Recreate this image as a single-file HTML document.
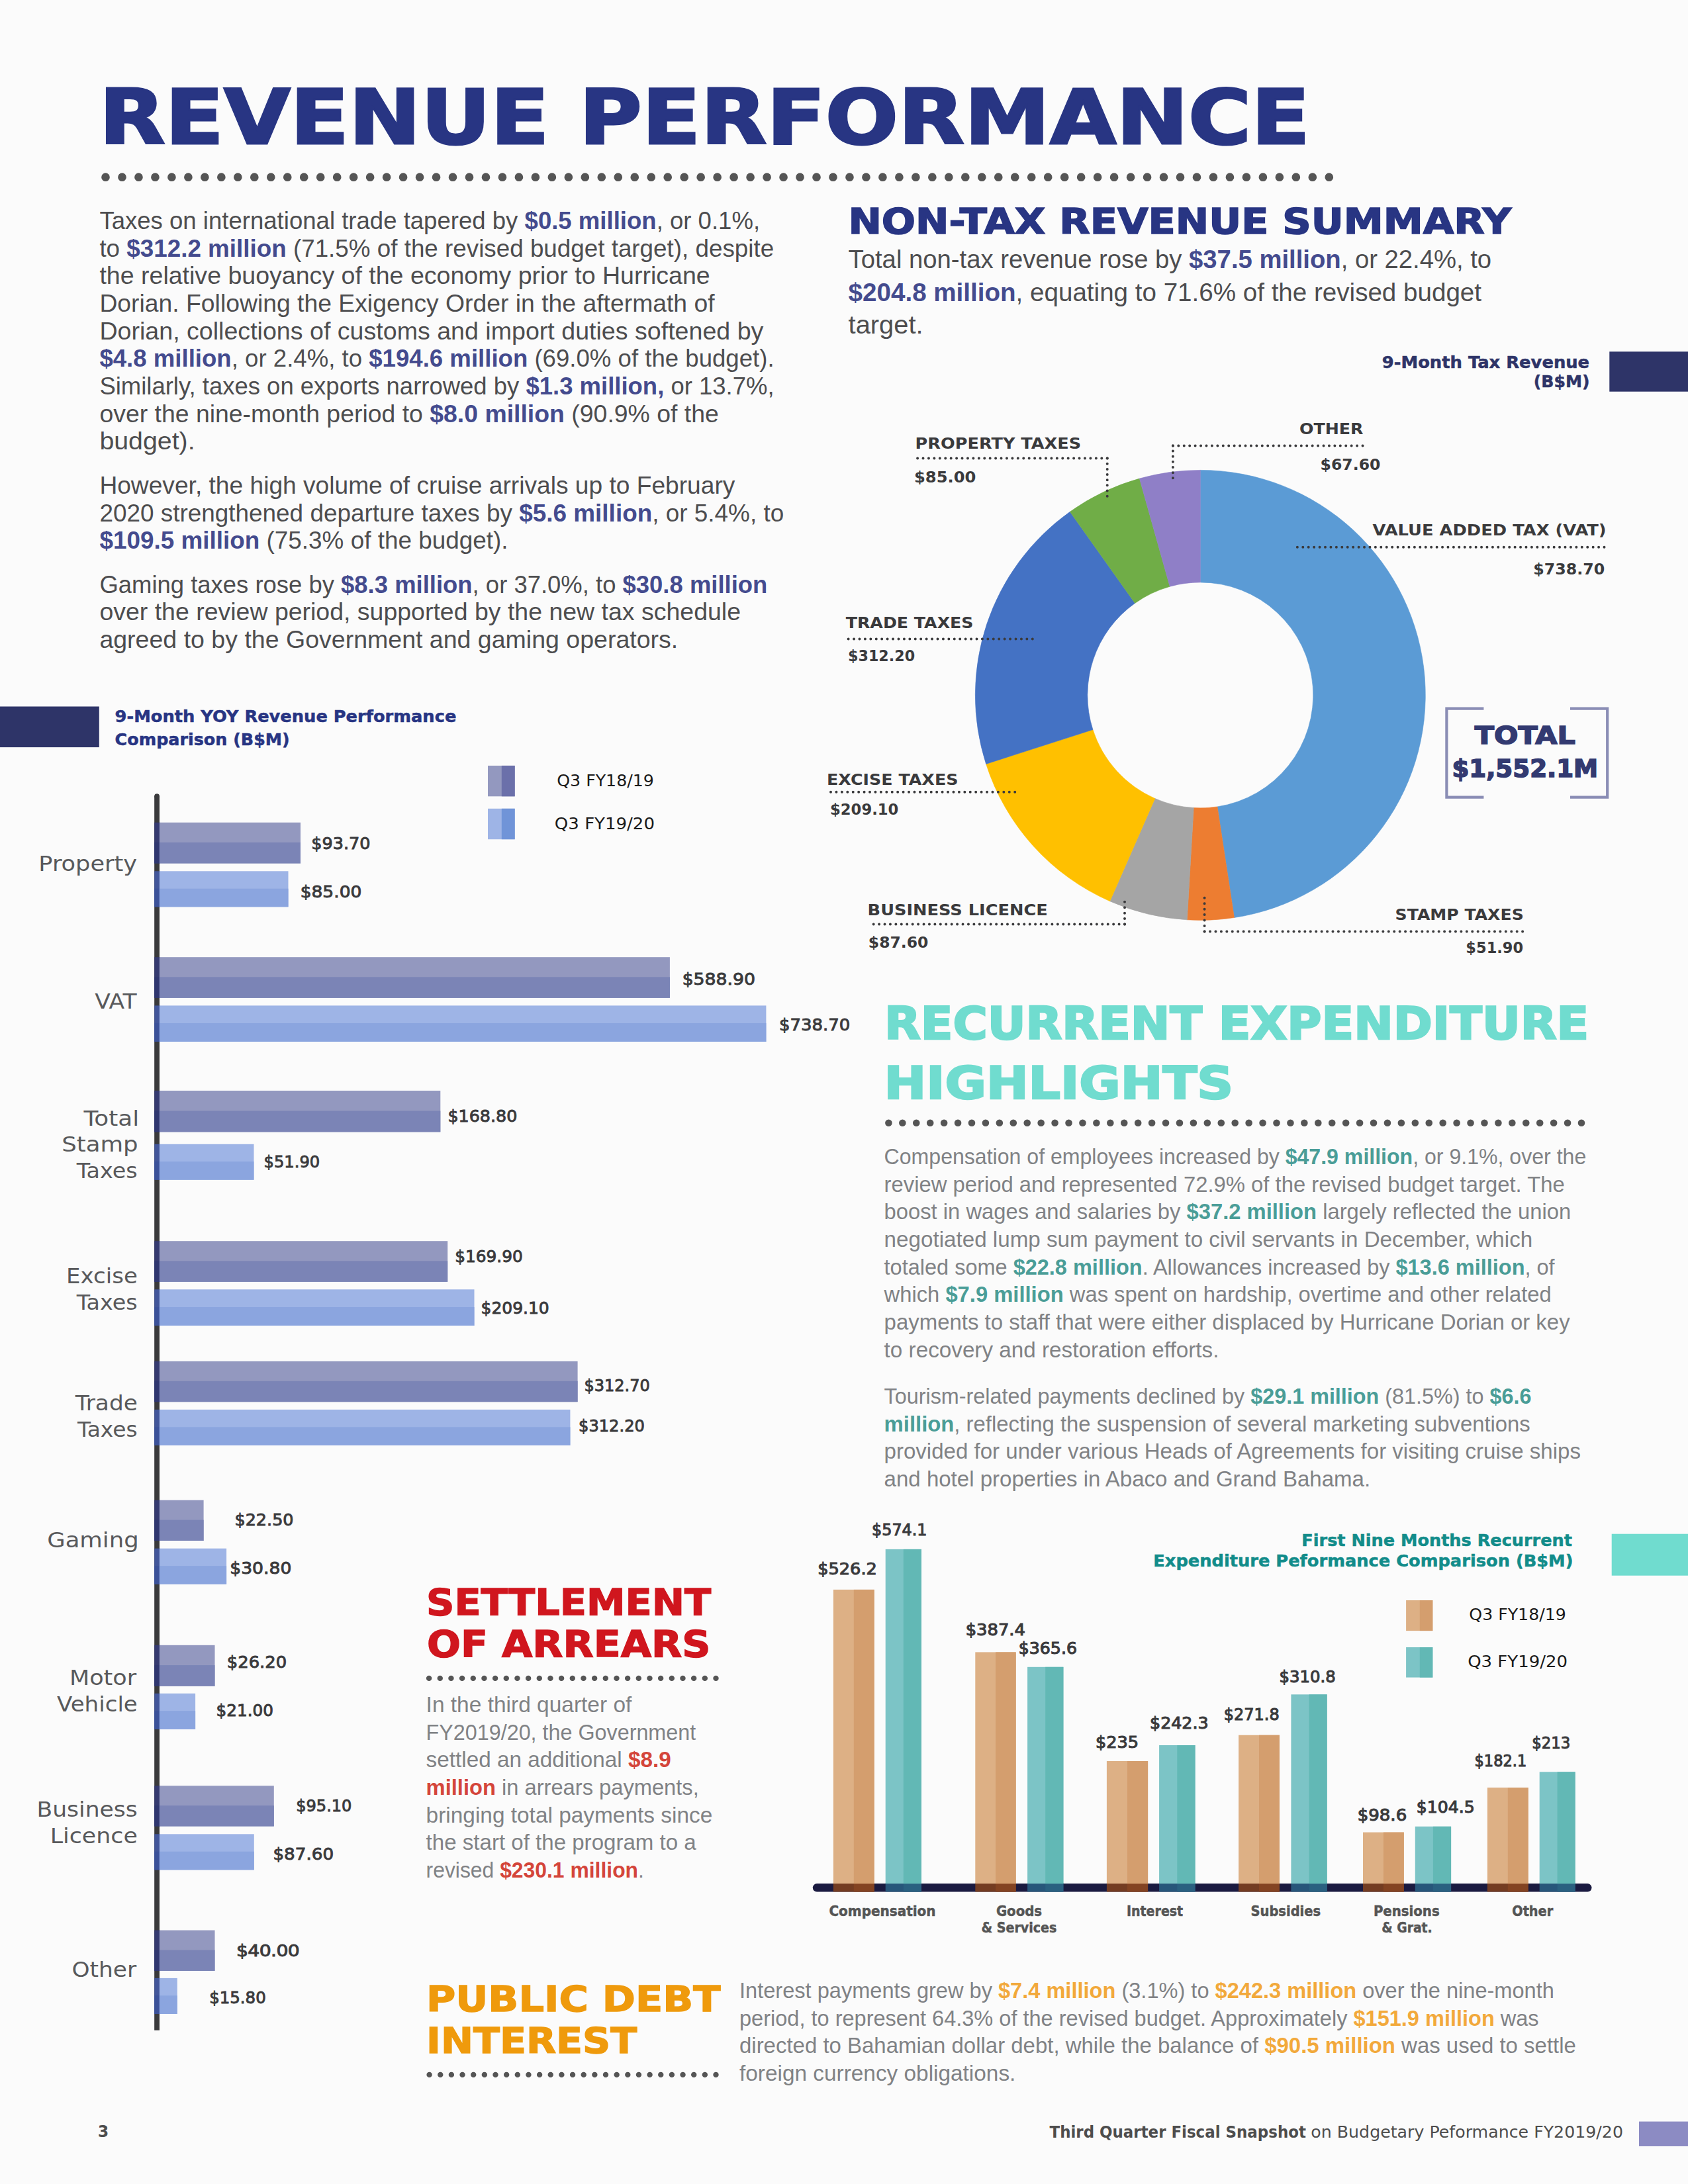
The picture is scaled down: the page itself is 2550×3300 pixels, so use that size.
<!DOCTYPE html>
<html lang="en"><head><meta charset="utf-8"><title>Revenue Performance</title>
<style>html,body{margin:0;padding:0;background:#fbfbfb}svg{display:block}text{white-space:pre}</style>
</head><body>
<svg width="2550" height="3300" viewBox="0 0 2550 3300">
<rect width="2550" height="3300" fill="#fbfbfb"/>
<text x="149.68" y="216.70" font-size="114.60" font-family="'DejaVu Sans','Liberation Sans',sans-serif" font-weight="bold" fill="#283583" stroke="#283583" stroke-width="3.00" stroke-linejoin="miter" textLength="1829.09" lengthAdjust="spacingAndGlyphs">REVENUE PERFORMANCE</text>
<line x1="159.5" y1="267.7" x2="2008.4" y2="267.7" stroke="#555" stroke-width="12.7" stroke-linecap="round" stroke-dasharray="0 24.977"/>
<text x="150.40" y="345.80" font-size="36.80" font-family="'Liberation Sans',sans-serif" font-weight="normal" fill="#4d4d4f" textLength="997.70" lengthAdjust="spacingAndGlyphs">Taxes on international trade tapered by <tspan font-weight="bold" fill="#444b8e">$0.5 million</tspan>, or 0.1%,</text>
<text x="150.40" y="387.50" font-size="36.80" font-family="'Liberation Sans',sans-serif" font-weight="normal" fill="#4d4d4f" textLength="1018.76" lengthAdjust="spacingAndGlyphs">to <tspan font-weight="bold" fill="#444b8e">$312.2 million</tspan> (71.5% of the revised budget target), despite</text>
<text x="150.40" y="429.20" font-size="36.80" font-family="'Liberation Sans',sans-serif" font-weight="normal" fill="#4d4d4f" textLength="922.29" lengthAdjust="spacingAndGlyphs">the relative buoyancy of the economy prior to Hurricane</text>
<text x="150.40" y="470.90" font-size="36.80" font-family="'Liberation Sans',sans-serif" font-weight="normal" fill="#4d4d4f" textLength="929.21" lengthAdjust="spacingAndGlyphs">Dorian. Following the Exigency Order in the aftermath of</text>
<text x="150.40" y="512.60" font-size="36.80" font-family="'Liberation Sans',sans-serif" font-weight="normal" fill="#4d4d4f" textLength="1002.99" lengthAdjust="spacingAndGlyphs">Dorian, collections of customs and import duties softened by</text>
<text x="150.40" y="554.30" font-size="36.80" font-family="'Liberation Sans',sans-serif" font-weight="normal" fill="#4d4d4f" textLength="1019.21" lengthAdjust="spacingAndGlyphs"><tspan font-weight="bold" fill="#444b8e">$4.8 million</tspan>, or 2.4%, to <tspan font-weight="bold" fill="#444b8e">$194.6 million</tspan> (69.0% of the budget).</text>
<text x="150.40" y="596.00" font-size="36.80" font-family="'Liberation Sans',sans-serif" font-weight="normal" fill="#4d4d4f" textLength="1019.20" lengthAdjust="spacingAndGlyphs">Similarly, taxes on exports narrowed by <tspan font-weight="bold" fill="#444b8e">$1.3 million,</tspan> or 13.7%,</text>
<text x="150.40" y="637.70" font-size="36.80" font-family="'Liberation Sans',sans-serif" font-weight="normal" fill="#4d4d4f" textLength="935.39" lengthAdjust="spacingAndGlyphs">over the nine-month period to <tspan font-weight="bold" fill="#444b8e">$8.0 million</tspan> (90.9% of the</text>
<text x="150.40" y="679.40" font-size="36.80" font-family="'Liberation Sans',sans-serif" font-weight="normal" fill="#4d4d4f" textLength="144.24" lengthAdjust="spacingAndGlyphs">budget).</text>
<text x="150.40" y="745.80" font-size="36.80" font-family="'Liberation Sans',sans-serif" font-weight="normal" fill="#4d4d4f" textLength="959.99" lengthAdjust="spacingAndGlyphs">However, the high volume of cruise arrivals up to February</text>
<text x="150.40" y="787.50" font-size="36.80" font-family="'Liberation Sans',sans-serif" font-weight="normal" fill="#4d4d4f" textLength="1033.77" lengthAdjust="spacingAndGlyphs">2020 strengthened departure taxes by <tspan font-weight="bold" fill="#444b8e">$5.6 million</tspan>, or 5.4%, to</text>
<text x="150.40" y="829.20" font-size="36.80" font-family="'Liberation Sans',sans-serif" font-weight="normal" fill="#4d4d4f" textLength="617.13" lengthAdjust="spacingAndGlyphs"><tspan font-weight="bold" fill="#444b8e">$109.5 million</tspan> (75.3% of the budget).</text>
<text x="150.40" y="895.70" font-size="36.80" font-family="'Liberation Sans',sans-serif" font-weight="normal" fill="#4d4d4f" textLength="1008.96" lengthAdjust="spacingAndGlyphs">Gaming taxes rose by <tspan font-weight="bold" fill="#444b8e">$8.3 million</tspan>, or 37.0%, to <tspan font-weight="bold" fill="#444b8e">$30.8 million</tspan></text>
<text x="150.40" y="937.40" font-size="36.80" font-family="'Liberation Sans',sans-serif" font-weight="normal" fill="#4d4d4f" textLength="968.59" lengthAdjust="spacingAndGlyphs">over the review period, supported by the new tax schedule</text>
<text x="150.40" y="979.10" font-size="36.80" font-family="'Liberation Sans',sans-serif" font-weight="normal" fill="#4d4d4f" textLength="873.89" lengthAdjust="spacingAndGlyphs">agreed to by the Government and gaming operators.</text>
<text x="1281.40" y="353.20" font-size="53.60" font-family="'DejaVu Sans','Liberation Sans',sans-serif" font-weight="bold" fill="#283583" stroke="#283583" stroke-width="1.60" stroke-linejoin="miter" textLength="1001.76" lengthAdjust="spacingAndGlyphs">NON-TAX REVENUE SUMMARY</text>
<text x="1281.60" y="404.80" font-size="38.00" font-family="'Liberation Sans',sans-serif" font-weight="normal" fill="#4d4d4f" textLength="971.54" lengthAdjust="spacingAndGlyphs">Total non-tax revenue rose by <tspan font-weight="bold" fill="#444b8e">$37.5 million</tspan>, or 22.4%, to</text>
<text x="1281.60" y="454.60" font-size="38.00" font-family="'Liberation Sans',sans-serif" font-weight="normal" fill="#4d4d4f" textLength="956.45" lengthAdjust="spacingAndGlyphs"><tspan font-weight="bold" fill="#444b8e">$204.8 million</tspan>, equating to 71.6% of the revised budget</text>
<text x="1281.60" y="504.40" font-size="38.00" font-family="'Liberation Sans',sans-serif" font-weight="normal" fill="#4d4d4f" textLength="112.98" lengthAdjust="spacingAndGlyphs">target.</text>
<text x="2087.82" y="555.80" font-size="25.00" font-family="'DejaVu Sans','Liberation Sans',sans-serif" font-weight="bold" fill="#2e3468" stroke="#2e3468" stroke-width="0.50" stroke-linejoin="miter" textLength="313.32" lengthAdjust="spacingAndGlyphs">9-Month Tax Revenue</text>
<text x="2316.84" y="585.30" font-size="25.00" font-family="'DejaVu Sans','Liberation Sans',sans-serif" font-weight="bold" fill="#2e3468" stroke="#2e3468" stroke-width="0.50" stroke-linejoin="miter" textLength="84.75" lengthAdjust="spacingAndGlyphs">(B$M)</text>
<rect x="2431.3" y="531.3" width="118.7" height="60.4" fill="#2e3468"/>
<path d="M1813.30 710.40A340.0 340.0 0 0 1 1864.51 1386.52L1838.98 1218.95A170.5 170.5 0 0 0 1813.30 879.90Z" fill="#5b9bd5" stroke="#5b9bd5" stroke-width="0.6"/>
<path d="M1864.51 1386.52A340.0 340.0 0 0 1 1793.29 1389.81L1803.26 1220.60A170.5 170.5 0 0 0 1838.98 1218.95Z" fill="#ed7d31" stroke="#ed7d31" stroke-width="0.6"/>
<path d="M1793.29 1389.81A340.0 340.0 0 0 1 1676.68 1361.74L1744.79 1206.53A170.5 170.5 0 0 0 1803.26 1220.60Z" fill="#a5a5a5" stroke="#a5a5a5" stroke-width="0.6"/>
<path d="M1676.68 1361.74A340.0 340.0 0 0 1 1489.59 1154.38L1650.97 1102.54A170.5 170.5 0 0 0 1744.79 1206.53Z" fill="#ffc000" stroke="#ffc000" stroke-width="0.6"/>
<path d="M1489.59 1154.38A340.0 340.0 0 0 1 1616.37 773.24L1714.55 911.41A170.5 170.5 0 0 0 1650.97 1102.54Z" fill="#4472c4" stroke="#4472c4" stroke-width="0.6"/>
<path d="M1616.37 773.24A340.0 340.0 0 0 1 1721.41 723.05L1767.22 886.24A170.5 170.5 0 0 0 1714.55 911.41Z" fill="#70ad47" stroke="#70ad47" stroke-width="0.6"/>
<path d="M1721.41 723.05A340.0 340.0 0 0 1 1813.30 710.40L1813.30 879.90A170.5 170.5 0 0 0 1767.22 886.24Z" fill="#8f7fc7" stroke="#8f7fc7" stroke-width="0.6"/>
<text x="1382.63" y="677.80" font-size="23.60" font-family="'DejaVu Sans','Liberation Sans',sans-serif" font-weight="bold" fill="#3a3a3c" textLength="250.44" lengthAdjust="spacingAndGlyphs">PROPERTY TAXES</text>
<line x1="1672.7" y1="692.6" x2="1384.3" y2="692.6" stroke="#3a3a3c" stroke-width="4.0" stroke-linecap="round" stroke-dasharray="0 8.43"/>
<line x1="1672.7" y1="692.6" x2="1672.7" y2="750.5" stroke="#3a3a3c" stroke-width="4.0" stroke-linecap="round" stroke-dasharray="0 8.15"/>
<text x="1380.97" y="729.00" font-size="23.60" font-family="'DejaVu Sans','Liberation Sans',sans-serif" font-weight="bold" fill="#3a3a3c" textLength="93.45" lengthAdjust="spacingAndGlyphs">$85.00</text>
<text x="1962.93" y="656.00" font-size="23.60" font-family="'DejaVu Sans','Liberation Sans',sans-serif" font-weight="bold" fill="#3a3a3c" textLength="96.65" lengthAdjust="spacingAndGlyphs">OTHER</text>
<line x1="1771.9" y1="673.4" x2="2059.3" y2="673.4" stroke="#3a3a3c" stroke-width="4.0" stroke-linecap="round" stroke-dasharray="0 8.43"/>
<line x1="1771.9" y1="673.4" x2="1771.9" y2="723.9" stroke="#3a3a3c" stroke-width="4.0" stroke-linecap="round" stroke-dasharray="0 8.15"/>
<text x="1994.50" y="710.30" font-size="23.60" font-family="'DejaVu Sans','Liberation Sans',sans-serif" font-weight="bold" fill="#3a3a3c" textLength="90.91" lengthAdjust="spacingAndGlyphs">$67.60</text>
<text x="2073.50" y="808.60" font-size="23.60" font-family="'DejaVu Sans','Liberation Sans',sans-serif" font-weight="bold" fill="#3a3a3c" textLength="353.15" lengthAdjust="spacingAndGlyphs">VALUE ADDED TAX (VAT)</text>
<line x1="2423.5" y1="826.8" x2="1952.5" y2="826.8" stroke="#3a3a3c" stroke-width="4.0" stroke-linecap="round" stroke-dasharray="0 8.43"/>
<text x="2316.29" y="867.50" font-size="23.60" font-family="'DejaVu Sans','Liberation Sans',sans-serif" font-weight="bold" fill="#3a3a3c" textLength="108.02" lengthAdjust="spacingAndGlyphs">$738.70</text>
<text x="1277.70" y="948.50" font-size="23.60" font-family="'DejaVu Sans','Liberation Sans',sans-serif" font-weight="bold" fill="#3a3a3c" textLength="192.86" lengthAdjust="spacingAndGlyphs">TRADE TAXES</text>
<line x1="1281.6" y1="965.4" x2="1564.0" y2="965.4" stroke="#3a3a3c" stroke-width="4.0" stroke-linecap="round" stroke-dasharray="0 8.43"/>
<text x="1281.06" y="999.30" font-size="23.60" font-family="'DejaVu Sans','Liberation Sans',sans-serif" font-weight="bold" fill="#3a3a3c" textLength="101.03" lengthAdjust="spacingAndGlyphs">$312.20</text>
<text x="1249.05" y="1186.30" font-size="23.60" font-family="'DejaVu Sans','Liberation Sans',sans-serif" font-weight="bold" fill="#3a3a3c" textLength="198.41" lengthAdjust="spacingAndGlyphs">EXCISE TAXES</text>
<line x1="1255.0" y1="1196.7" x2="1536.5" y2="1196.7" stroke="#3a3a3c" stroke-width="4.0" stroke-linecap="round" stroke-dasharray="0 8.43"/>
<text x="1254.04" y="1231.30" font-size="23.60" font-family="'DejaVu Sans','Liberation Sans',sans-serif" font-weight="bold" fill="#3a3a3c" textLength="103.36" lengthAdjust="spacingAndGlyphs">$209.10</text>
<text x="1310.63" y="1383.00" font-size="23.60" font-family="'DejaVu Sans','Liberation Sans',sans-serif" font-weight="bold" fill="#3a3a3c" textLength="272.19" lengthAdjust="spacingAndGlyphs">BUSINESS LICENCE</text>
<line x1="1699.0" y1="1396.5" x2="1311.5" y2="1396.5" stroke="#3a3a3c" stroke-width="4.0" stroke-linecap="round" stroke-dasharray="0 8.43"/>
<line x1="1699.0" y1="1396.5" x2="1699.0" y2="1361.5" stroke="#3a3a3c" stroke-width="4.0" stroke-linecap="round" stroke-dasharray="0 8.43"/>
<text x="1311.80" y="1431.60" font-size="23.60" font-family="'DejaVu Sans','Liberation Sans',sans-serif" font-weight="bold" fill="#3a3a3c" textLength="90.61" lengthAdjust="spacingAndGlyphs">$87.60</text>
<text x="2107.64" y="1389.60" font-size="23.60" font-family="'DejaVu Sans','Liberation Sans',sans-serif" font-weight="bold" fill="#3a3a3c" textLength="194.12" lengthAdjust="spacingAndGlyphs">STAMP TAXES</text>
<line x1="1819.6" y1="1407.4" x2="2301.5" y2="1407.4" stroke="#3a3a3c" stroke-width="4.0" stroke-linecap="round" stroke-dasharray="0 8.43"/>
<line x1="1819.6" y1="1407.4" x2="1819.6" y2="1355.5" stroke="#3a3a3c" stroke-width="4.0" stroke-linecap="round" stroke-dasharray="0 8.43"/>
<text x="2214.35" y="1440.20" font-size="23.60" font-family="'DejaVu Sans','Liberation Sans',sans-serif" font-weight="bold" fill="#3a3a3c" textLength="86.75" lengthAdjust="spacingAndGlyphs">$51.90</text>
<path d="M2241.4 1070.7H2185.4V1204.6H2241.4M2372 1070.7H2428.2V1204.6H2372" fill="none" stroke="#8a8db5" stroke-width="4.2"/>
<text x="2227.70" y="1124.40" font-size="38.00" font-family="'DejaVu Sans','Liberation Sans',sans-serif" font-weight="bold" fill="#333a71" stroke="#333a71" stroke-width="1.60" stroke-linejoin="miter" textLength="152.24" lengthAdjust="spacingAndGlyphs">TOTAL</text>
<text x="2193.38" y="1173.80" font-size="36.80" font-family="'DejaVu Sans','Liberation Sans',sans-serif" font-weight="bold" fill="#333a71" stroke="#333a71" stroke-width="1.60" stroke-linejoin="miter" textLength="220.77" lengthAdjust="spacingAndGlyphs">$1,552.1M</text>
<rect x="0.0" y="1067.5" width="149.8" height="61.6" fill="#2e3468"/>
<text x="173.62" y="1090.70" font-size="25.00" font-family="'DejaVu Sans','Liberation Sans',sans-serif" font-weight="bold" fill="#283583" stroke="#283583" stroke-width="0.50" stroke-linejoin="miter" textLength="515.71" lengthAdjust="spacingAndGlyphs">9-Month YOY Revenue Performance</text>
<text x="173.63" y="1125.80" font-size="25.00" font-family="'DejaVu Sans','Liberation Sans',sans-serif" font-weight="bold" fill="#283583" stroke="#283583" stroke-width="0.50" stroke-linejoin="miter" textLength="264.06" lengthAdjust="spacingAndGlyphs">Comparison (B$M)</text>
<rect x="737.0" y="1156.9" width="40.7" height="46.4" fill="#9398bf"/>
<rect x="757.8" y="1156.9" width="19.9" height="46.4" fill="#6b70aa"/>
<rect x="737.0" y="1221.8" width="40.7" height="46.4" fill="#9eb4e6"/>
<rect x="757.8" y="1221.8" width="19.9" height="46.4" fill="#7094d8"/>
<text x="841.21" y="1188.20" font-size="25.50" font-family="'DejaVu Sans','Liberation Sans',sans-serif" font-weight="normal" fill="#1a1a1a" textLength="146.70" lengthAdjust="spacingAndGlyphs">Q3 FY18/19</text>
<text x="837.88" y="1253.10" font-size="25.50" font-family="'DejaVu Sans','Liberation Sans',sans-serif" font-weight="normal" fill="#1a1a1a" textLength="151.07" lengthAdjust="spacingAndGlyphs">Q3 FY19/20</text>
<line x1="237.05" y1="1203.1" x2="237.05" y2="3067.8" stroke="#3a3a3c" stroke-width="7.8" stroke-linecap="butt"/>
<circle cx="237.05" cy="1203.1" r="3.9" fill="#3a3a3c"/>
<rect x="233.2" y="1242.8" width="8.3" height="61.7" fill="#353a70"/>
<rect x="233.2" y="1272.9" width="8.3" height="31.6" fill="#2f366f"/>
<rect x="240.9" y="1242.8" width="213.1" height="61.7" fill="#9398bf"/>
<rect x="240.9" y="1272.9" width="213.1" height="31.6" fill="#7b84b6"/>
<rect x="233.2" y="1316.3" width="8.3" height="54.0" fill="#42569a"/>
<rect x="233.2" y="1342.7" width="8.3" height="27.6" fill="#3b5199"/>
<rect x="240.9" y="1316.3" width="194.6" height="54.0" fill="#9eb4e6"/>
<rect x="240.9" y="1342.7" width="194.6" height="27.6" fill="#8ba5df"/>
<text x="470.32" y="1283.10" font-size="28.30" font-family="'DejaVu Sans','Liberation Sans',sans-serif" font-weight="normal" fill="#3a3a3c" stroke="#3a3a3c" stroke-width="1.05" stroke-linejoin="miter" textLength="89.26" lengthAdjust="spacingAndGlyphs" transform="matrix(1 0 0 0.9050 0 121.894)">$93.70</text>
<text x="453.65" y="1356.10" font-size="28.30" font-family="'DejaVu Sans','Liberation Sans',sans-serif" font-weight="normal" fill="#3a3a3c" stroke="#3a3a3c" stroke-width="1.05" stroke-linejoin="miter" textLength="92.76" lengthAdjust="spacingAndGlyphs" transform="matrix(1 0 0 0.9050 0 128.829)">$85.00</text>
<text x="58.36" y="1316.30" font-size="32.50" font-family="'DejaVu Sans','Liberation Sans',sans-serif" font-weight="normal" fill="#58595b" textLength="148.70" lengthAdjust="spacingAndGlyphs">Property</text>
<rect x="233.2" y="1446.2" width="8.3" height="61.6" fill="#353a70"/>
<rect x="233.2" y="1476.3" width="8.3" height="31.5" fill="#2f366f"/>
<rect x="240.9" y="1446.2" width="771.0" height="61.6" fill="#9398bf"/>
<rect x="240.9" y="1476.3" width="771.0" height="31.5" fill="#7b84b6"/>
<rect x="233.2" y="1519.4" width="8.3" height="54.6" fill="#42569a"/>
<rect x="233.2" y="1546.0" width="8.3" height="28.0" fill="#3b5199"/>
<rect x="240.9" y="1519.4" width="916.5" height="54.6" fill="#9eb4e6"/>
<rect x="240.9" y="1546.0" width="916.5" height="28.0" fill="#8ba5df"/>
<text x="1030.64" y="1487.80" font-size="28.30" font-family="'DejaVu Sans','Liberation Sans',sans-serif" font-weight="normal" fill="#3a3a3c" stroke="#3a3a3c" stroke-width="1.05" stroke-linejoin="miter" textLength="110.28" lengthAdjust="spacingAndGlyphs" transform="matrix(1 0 0 0.9050 0 141.341)">$588.90</text>
<text x="1176.99" y="1557.10" font-size="28.30" font-family="'DejaVu Sans','Liberation Sans',sans-serif" font-weight="normal" fill="#3a3a3c" stroke="#3a3a3c" stroke-width="1.05" stroke-linejoin="miter" textLength="107.20" lengthAdjust="spacingAndGlyphs" transform="matrix(1 0 0 0.9050 0 147.924)">$738.70</text>
<text x="143.20" y="1524.00" font-size="32.50" font-family="'DejaVu Sans','Liberation Sans',sans-serif" font-weight="normal" fill="#58595b" textLength="63.44" lengthAdjust="spacingAndGlyphs">VAT</text>
<rect x="233.2" y="1648.0" width="8.3" height="62.4" fill="#353a70"/>
<rect x="233.2" y="1678.5" width="8.3" height="31.9" fill="#2f366f"/>
<rect x="240.9" y="1648.0" width="424.4" height="62.4" fill="#9398bf"/>
<rect x="240.9" y="1678.5" width="424.4" height="31.9" fill="#7b84b6"/>
<rect x="233.2" y="1728.8" width="8.3" height="53.9" fill="#42569a"/>
<rect x="233.2" y="1755.1" width="8.3" height="27.6" fill="#3b5199"/>
<rect x="240.9" y="1728.8" width="142.6" height="53.9" fill="#9eb4e6"/>
<rect x="240.9" y="1755.1" width="142.6" height="27.6" fill="#8ba5df"/>
<text x="676.43" y="1695.00" font-size="28.30" font-family="'DejaVu Sans','Liberation Sans',sans-serif" font-weight="normal" fill="#3a3a3c" stroke="#3a3a3c" stroke-width="1.05" stroke-linejoin="miter" textLength="104.84" lengthAdjust="spacingAndGlyphs" transform="matrix(1 0 0 0.9050 0 161.025)">$168.80</text>
<text x="398.51" y="1764.30" font-size="28.30" font-family="'DejaVu Sans','Liberation Sans',sans-serif" font-weight="normal" fill="#3a3a3c" stroke="#3a3a3c" stroke-width="1.05" stroke-linejoin="miter" textLength="84.72" lengthAdjust="spacingAndGlyphs" transform="matrix(1 0 0 0.9050 0 167.608)">$51.90</text>
<text x="126.60" y="1701.10" font-size="32.50" font-family="'DejaVu Sans','Liberation Sans',sans-serif" font-weight="normal" fill="#58595b" textLength="83.53" lengthAdjust="spacingAndGlyphs">Total</text>
<text x="93.32" y="1740.40" font-size="32.50" font-family="'DejaVu Sans','Liberation Sans',sans-serif" font-weight="normal" fill="#58595b" textLength="115.26" lengthAdjust="spacingAndGlyphs">Stamp</text>
<text x="115.73" y="1780.40" font-size="32.50" font-family="'DejaVu Sans','Liberation Sans',sans-serif" font-weight="normal" fill="#58595b" textLength="92.03" lengthAdjust="spacingAndGlyphs">Taxes</text>
<rect x="233.2" y="1875.2" width="8.3" height="61.6" fill="#353a70"/>
<rect x="233.2" y="1905.3" width="8.3" height="31.5" fill="#2f366f"/>
<rect x="240.9" y="1875.2" width="435.3" height="61.6" fill="#9398bf"/>
<rect x="240.9" y="1905.3" width="435.3" height="31.5" fill="#7b84b6"/>
<rect x="233.2" y="1948.3" width="8.3" height="54.7" fill="#42569a"/>
<rect x="233.2" y="1975.0" width="8.3" height="28.0" fill="#3b5199"/>
<rect x="240.9" y="1948.3" width="475.6" height="54.7" fill="#9eb4e6"/>
<rect x="240.9" y="1975.0" width="475.6" height="28.0" fill="#8ba5df"/>
<text x="687.27" y="1907.50" font-size="28.30" font-family="'DejaVu Sans','Liberation Sans',sans-serif" font-weight="normal" fill="#3a3a3c" stroke="#3a3a3c" stroke-width="1.05" stroke-linejoin="miter" textLength="102.48" lengthAdjust="spacingAndGlyphs" transform="matrix(1 0 0 0.9050 0 181.212)">$169.90</text>
<text x="726.56" y="1985.30" font-size="28.30" font-family="'DejaVu Sans','Liberation Sans',sans-serif" font-weight="normal" fill="#3a3a3c" stroke="#3a3a3c" stroke-width="1.05" stroke-linejoin="miter" textLength="103.20" lengthAdjust="spacingAndGlyphs" transform="matrix(1 0 0 0.9050 0 188.603)">$209.10</text>
<text x="100.06" y="1939.10" font-size="32.50" font-family="'DejaVu Sans','Liberation Sans',sans-serif" font-weight="normal" fill="#58595b" textLength="107.78" lengthAdjust="spacingAndGlyphs">Excise</text>
<text x="115.73" y="1979.10" font-size="32.50" font-family="'DejaVu Sans','Liberation Sans',sans-serif" font-weight="normal" fill="#58595b" textLength="92.03" lengthAdjust="spacingAndGlyphs">Taxes</text>
<rect x="233.2" y="2056.9" width="8.3" height="61.3" fill="#353a70"/>
<rect x="233.2" y="2086.8" width="8.3" height="31.4" fill="#2f366f"/>
<rect x="240.9" y="2056.9" width="631.7" height="61.3" fill="#9398bf"/>
<rect x="240.9" y="2086.8" width="631.7" height="31.4" fill="#7b84b6"/>
<rect x="233.2" y="2129.9" width="8.3" height="54.1" fill="#42569a"/>
<rect x="233.2" y="2156.3" width="8.3" height="27.7" fill="#3b5199"/>
<rect x="240.9" y="2129.9" width="620.5" height="54.1" fill="#9eb4e6"/>
<rect x="240.9" y="2156.3" width="620.5" height="27.7" fill="#8ba5df"/>
<text x="882.53" y="2101.90" font-size="28.30" font-family="'DejaVu Sans','Liberation Sans',sans-serif" font-weight="normal" fill="#3a3a3c" stroke="#3a3a3c" stroke-width="1.05" stroke-linejoin="miter" textLength="99.20" lengthAdjust="spacingAndGlyphs" transform="matrix(1 0 0 0.9050 0 199.680)">$312.70</text>
<text x="874.02" y="2163.10" font-size="28.30" font-family="'DejaVu Sans','Liberation Sans',sans-serif" font-weight="normal" fill="#3a3a3c" stroke="#3a3a3c" stroke-width="1.05" stroke-linejoin="miter" textLength="99.91" lengthAdjust="spacingAndGlyphs" transform="matrix(1 0 0 0.9050 0 205.494)">$312.20</text>
<text x="113.76" y="2131.20" font-size="32.50" font-family="'DejaVu Sans','Liberation Sans',sans-serif" font-weight="normal" fill="#58595b" textLength="94.09" lengthAdjust="spacingAndGlyphs">Trade</text>
<text x="117.01" y="2170.90" font-size="32.50" font-family="'DejaVu Sans','Liberation Sans',sans-serif" font-weight="normal" fill="#58595b" textLength="90.73" lengthAdjust="spacingAndGlyphs">Taxes</text>
<rect x="233.2" y="2266.7" width="8.3" height="61.3" fill="#353a70"/>
<rect x="233.2" y="2296.6" width="8.3" height="31.4" fill="#2f366f"/>
<rect x="240.9" y="2266.7" width="66.7" height="61.3" fill="#9398bf"/>
<rect x="240.9" y="2296.6" width="66.7" height="31.4" fill="#7b84b6"/>
<rect x="233.2" y="2339.7" width="8.3" height="54.1" fill="#42569a"/>
<rect x="233.2" y="2366.1" width="8.3" height="27.7" fill="#3b5199"/>
<rect x="240.9" y="2339.7" width="101.2" height="54.1" fill="#9eb4e6"/>
<rect x="240.9" y="2366.1" width="101.2" height="27.7" fill="#8ba5df"/>
<text x="354.53" y="2305.20" font-size="28.30" font-family="'DejaVu Sans','Liberation Sans',sans-serif" font-weight="normal" fill="#3a3a3c" stroke="#3a3a3c" stroke-width="1.05" stroke-linejoin="miter" textLength="88.95" lengthAdjust="spacingAndGlyphs" transform="matrix(1 0 0 0.9050 0 218.994)">$22.50</text>
<text x="347.24" y="2378.20" font-size="28.30" font-family="'DejaVu Sans','Liberation Sans',sans-serif" font-weight="normal" fill="#3a3a3c" stroke="#3a3a3c" stroke-width="1.05" stroke-linejoin="miter" textLength="93.07" lengthAdjust="spacingAndGlyphs" transform="matrix(1 0 0 0.9050 0 225.929)">$30.80</text>
<text x="71.21" y="2337.80" font-size="32.50" font-family="'DejaVu Sans','Liberation Sans',sans-serif" font-weight="normal" fill="#58595b" textLength="138.46" lengthAdjust="spacingAndGlyphs">Gaming</text>
<rect x="233.2" y="2485.8" width="8.3" height="62.0" fill="#353a70"/>
<rect x="233.2" y="2516.1" width="8.3" height="31.7" fill="#2f366f"/>
<rect x="240.9" y="2485.8" width="83.6" height="62.0" fill="#9398bf"/>
<rect x="240.9" y="2516.1" width="83.6" height="31.7" fill="#7b84b6"/>
<rect x="233.2" y="2558.8" width="8.3" height="54.1" fill="#42569a"/>
<rect x="233.2" y="2585.2" width="8.3" height="27.7" fill="#3b5199"/>
<rect x="240.9" y="2558.8" width="54.2" height="54.1" fill="#9eb4e6"/>
<rect x="240.9" y="2585.2" width="54.2" height="27.7" fill="#8ba5df"/>
<text x="342.80" y="2520.40" font-size="28.30" font-family="'DejaVu Sans','Liberation Sans',sans-serif" font-weight="normal" fill="#3a3a3c" stroke="#3a3a3c" stroke-width="1.05" stroke-linejoin="miter" textLength="90.29" lengthAdjust="spacingAndGlyphs" transform="matrix(1 0 0 0.9050 0 239.438)">$26.20</text>
<text x="326.58" y="2593.40" font-size="28.30" font-family="'DejaVu Sans','Liberation Sans',sans-serif" font-weight="normal" fill="#3a3a3c" stroke="#3a3a3c" stroke-width="1.05" stroke-linejoin="miter" textLength="86.27" lengthAdjust="spacingAndGlyphs" transform="matrix(1 0 0 0.9050 0 246.373)">$21.00</text>
<text x="104.97" y="2545.80" font-size="32.50" font-family="'DejaVu Sans','Liberation Sans',sans-serif" font-weight="normal" fill="#58595b" textLength="101.14" lengthAdjust="spacingAndGlyphs">Motor</text>
<text x="86.00" y="2585.50" font-size="32.50" font-family="'DejaVu Sans','Liberation Sans',sans-serif" font-weight="normal" fill="#58595b" textLength="121.84" lengthAdjust="spacingAndGlyphs">Vehicle</text>
<rect x="233.2" y="2698.3" width="8.3" height="61.2" fill="#353a70"/>
<rect x="233.2" y="2728.2" width="8.3" height="31.3" fill="#2f366f"/>
<rect x="240.9" y="2698.3" width="172.9" height="61.2" fill="#9398bf"/>
<rect x="240.9" y="2728.2" width="172.9" height="31.3" fill="#7b84b6"/>
<rect x="233.2" y="2771.3" width="8.3" height="54.1" fill="#42569a"/>
<rect x="233.2" y="2797.7" width="8.3" height="27.7" fill="#3b5199"/>
<rect x="240.9" y="2771.3" width="142.9" height="54.1" fill="#9eb4e6"/>
<rect x="240.9" y="2797.7" width="142.9" height="27.7" fill="#8ba5df"/>
<text x="447.22" y="2737.40" font-size="28.30" font-family="'DejaVu Sans','Liberation Sans',sans-serif" font-weight="normal" fill="#3a3a3c" stroke="#3a3a3c" stroke-width="1.05" stroke-linejoin="miter" textLength="84.20" lengthAdjust="spacingAndGlyphs" transform="matrix(1 0 0 0.9050 0 260.053)">$95.10</text>
<text x="412.47" y="2810.40" font-size="28.30" font-family="'DejaVu Sans','Liberation Sans',sans-serif" font-weight="normal" fill="#3a3a3c" stroke="#3a3a3c" stroke-width="1.05" stroke-linejoin="miter" textLength="91.63" lengthAdjust="spacingAndGlyphs" transform="matrix(1 0 0 0.9050 0 266.988)">$87.60</text>
<text x="55.51" y="2745.20" font-size="32.50" font-family="'DejaVu Sans','Liberation Sans',sans-serif" font-weight="normal" fill="#58595b" textLength="152.28" lengthAdjust="spacingAndGlyphs">Business</text>
<text x="75.69" y="2785.00" font-size="32.50" font-family="'DejaVu Sans','Liberation Sans',sans-serif" font-weight="normal" fill="#58595b" textLength="132.18" lengthAdjust="spacingAndGlyphs">Licence</text>
<rect x="233.2" y="2916.6" width="8.3" height="61.3" fill="#353a70"/>
<rect x="233.2" y="2946.5" width="8.3" height="31.4" fill="#2f366f"/>
<rect x="240.9" y="2916.6" width="83.6" height="61.3" fill="#9398bf"/>
<rect x="240.9" y="2946.5" width="83.6" height="31.4" fill="#7b84b6"/>
<rect x="233.2" y="2988.9" width="8.3" height="54.1" fill="#42569a"/>
<rect x="233.2" y="3015.3" width="8.3" height="27.7" fill="#3b5199"/>
<rect x="240.9" y="2988.9" width="26.9" height="54.1" fill="#9eb4e6"/>
<rect x="240.9" y="3015.3" width="26.9" height="27.7" fill="#8ba5df"/>
<text x="356.92" y="2955.70" font-size="28.30" font-family="'DejaVu Sans','Liberation Sans',sans-serif" font-weight="normal" fill="#3a3a3c" stroke="#3a3a3c" stroke-width="1.05" stroke-linejoin="miter" textLength="95.85" lengthAdjust="spacing" transform="matrix(1 0 0 0.9050 0 280.791)">$40.00</text>
<text x="316.20" y="3027.40" font-size="28.30" font-family="'DejaVu Sans','Liberation Sans',sans-serif" font-weight="normal" fill="#3a3a3c" stroke="#3a3a3c" stroke-width="1.05" stroke-linejoin="miter" textLength="85.54" lengthAdjust="spacingAndGlyphs" transform="matrix(1 0 0 0.9050 0 287.603)">$15.80</text>
<text x="108.44" y="2987.00" font-size="32.50" font-family="'DejaVu Sans','Liberation Sans',sans-serif" font-weight="normal" fill="#58595b" textLength="97.68" lengthAdjust="spacingAndGlyphs">Other</text>
<text x="644.05" y="2440.40" font-size="54.30" font-family="'DejaVu Sans','Liberation Sans',sans-serif" font-weight="bold" fill="#d0161e" stroke="#d0161e" stroke-width="1.40" stroke-linejoin="miter" textLength="429.99" lengthAdjust="spacingAndGlyphs">SETTLEMENT</text>
<text x="645.09" y="2503.20" font-size="54.30" font-family="'DejaVu Sans','Liberation Sans',sans-serif" font-weight="bold" fill="#d0161e" stroke="#d0161e" stroke-width="1.40" stroke-linejoin="miter" textLength="428.44" lengthAdjust="spacingAndGlyphs">OF ARREARS</text>
<line x1="648.1" y1="2535.9" x2="1082.1" y2="2535.9" stroke="#555" stroke-width="8.4" stroke-linecap="round" stroke-dasharray="0 16.669"/>
<text x="643.60" y="2586.80" font-size="32.30" font-family="'Liberation Sans',sans-serif" font-weight="normal" fill="#808285" textLength="310.74" lengthAdjust="spacingAndGlyphs">In the third quarter of</text>
<text x="643.60" y="2628.50" font-size="32.30" font-family="'Liberation Sans',sans-serif" font-weight="normal" fill="#808285" textLength="407.57" lengthAdjust="spacingAndGlyphs">FY2019/20, the Government</text>
<text x="643.60" y="2670.20" font-size="32.30" font-family="'Liberation Sans',sans-serif" font-weight="normal" fill="#808285" textLength="370.09" lengthAdjust="spacingAndGlyphs">settled an additional <tspan font-weight="bold" fill="#d4453a">$8.9</tspan></text>
<text x="643.60" y="2711.90" font-size="32.30" font-family="'Liberation Sans',sans-serif" font-weight="normal" fill="#808285" textLength="412.20" lengthAdjust="spacingAndGlyphs"><tspan font-weight="bold" fill="#d4453a">million</tspan> in arrears payments,</text>
<text x="643.60" y="2753.60" font-size="32.30" font-family="'Liberation Sans',sans-serif" font-weight="normal" fill="#808285" textLength="432.70" lengthAdjust="spacingAndGlyphs">bringing total payments since</text>
<text x="643.60" y="2795.30" font-size="32.30" font-family="'Liberation Sans',sans-serif" font-weight="normal" fill="#808285" textLength="408.16" lengthAdjust="spacingAndGlyphs">the start of the program to a</text>
<text x="643.60" y="2837.00" font-size="32.30" font-family="'Liberation Sans',sans-serif" font-weight="normal" fill="#808285" textLength="329.35" lengthAdjust="spacingAndGlyphs">revised <tspan font-weight="bold" fill="#d4453a">$230.1 million</tspan>.</text>
<text x="1336.01" y="1569.60" font-size="67.40" font-family="'DejaVu Sans','Liberation Sans',sans-serif" font-weight="bold" fill="#70dccf" stroke="#70dccf" stroke-width="2.50" stroke-linejoin="miter" textLength="1064.20" lengthAdjust="spacingAndGlyphs">RECURRENT EXPENDITURE</text>
<text x="1335.58" y="1659.90" font-size="67.40" font-family="'DejaVu Sans','Liberation Sans',sans-serif" font-weight="bold" fill="#70dccf" stroke="#70dccf" stroke-width="2.50" stroke-linejoin="miter" textLength="527.49" lengthAdjust="spacingAndGlyphs">HIGHLIGHTS</text>
<line x1="1342.4" y1="1696.7" x2="2389.6" y2="1696.7" stroke="#555" stroke-width="10.6" stroke-linecap="round" stroke-dasharray="0 20.932"/>
<text x="1335.60" y="1758.90" font-size="32.30" font-family="'Liberation Sans',sans-serif" font-weight="normal" fill="#808285" textLength="1060.66" lengthAdjust="spacingAndGlyphs">Compensation of employees increased by <tspan font-weight="bold" fill="#4a9d97">$47.9 million</tspan>, or 9.1%, over the</text>
<text x="1335.60" y="1800.60" font-size="32.30" font-family="'Liberation Sans',sans-serif" font-weight="normal" fill="#808285" textLength="1028.08" lengthAdjust="spacingAndGlyphs">review period and represented 72.9% of the revised budget target. The</text>
<text x="1335.60" y="1842.30" font-size="32.30" font-family="'Liberation Sans',sans-serif" font-weight="normal" fill="#808285" textLength="1037.59" lengthAdjust="spacingAndGlyphs">boost in wages and salaries by <tspan font-weight="bold" fill="#4a9d97">$37.2 million</tspan> largely reflected the union</text>
<text x="1335.60" y="1884.00" font-size="32.30" font-family="'Liberation Sans',sans-serif" font-weight="normal" fill="#808285" textLength="979.62" lengthAdjust="spacingAndGlyphs">negotiated lump sum payment to civil servants in December, which</text>
<text x="1335.60" y="1925.70" font-size="32.30" font-family="'Liberation Sans',sans-serif" font-weight="normal" fill="#808285" textLength="1013.07" lengthAdjust="spacingAndGlyphs">totaled some <tspan font-weight="bold" fill="#4a9d97">$22.8 million</tspan>. Allowances increased by <tspan font-weight="bold" fill="#4a9d97">$13.6 million</tspan>, of</text>
<text x="1335.60" y="1967.40" font-size="32.30" font-family="'Liberation Sans',sans-serif" font-weight="normal" fill="#808285" textLength="1008.19" lengthAdjust="spacingAndGlyphs">which <tspan font-weight="bold" fill="#4a9d97">$7.9 million</tspan> was spent on hardship, overtime and other related</text>
<text x="1335.60" y="2009.10" font-size="32.30" font-family="'Liberation Sans',sans-serif" font-weight="normal" fill="#808285" textLength="1036.03" lengthAdjust="spacingAndGlyphs">payments to staff that were either displaced by Hurricane Dorian or key</text>
<text x="1335.60" y="2050.60" font-size="32.30" font-family="'Liberation Sans',sans-serif" font-weight="normal" fill="#808285" textLength="505.83" lengthAdjust="spacingAndGlyphs">to recovery and restoration efforts.</text>
<text x="1335.60" y="2120.80" font-size="32.30" font-family="'Liberation Sans',sans-serif" font-weight="normal" fill="#808285" textLength="977.86" lengthAdjust="spacingAndGlyphs">Tourism-related payments declined by <tspan font-weight="bold" fill="#4a9d97">$29.1 million</tspan> (81.5%) to <tspan font-weight="bold" fill="#4a9d97">$6.6</tspan></text>
<text x="1335.60" y="2162.50" font-size="32.30" font-family="'Liberation Sans',sans-serif" font-weight="normal" fill="#808285" textLength="976.17" lengthAdjust="spacingAndGlyphs"><tspan font-weight="bold" fill="#4a9d97">million</tspan>, reflecting the suspension of several marketing subventions</text>
<text x="1335.60" y="2204.20" font-size="32.30" font-family="'Liberation Sans',sans-serif" font-weight="normal" fill="#808285" textLength="1052.37" lengthAdjust="spacingAndGlyphs">provided for under various Heads of Agreements for visiting cruise ships</text>
<text x="1335.60" y="2246.00" font-size="32.30" font-family="'Liberation Sans',sans-serif" font-weight="normal" fill="#808285" textLength="734.51" lengthAdjust="spacingAndGlyphs">and hotel properties in Abaco and Grand Bahama.</text>
<text x="1966.37" y="2336.40" font-size="24.60" font-family="'DejaVu Sans','Liberation Sans',sans-serif" font-weight="bold" fill="#128c8a" stroke="#128c8a" stroke-width="0.50" stroke-linejoin="miter" textLength="408.52" lengthAdjust="spacingAndGlyphs">First Nine Months Recurrent</text>
<text x="1742.26" y="2366.60" font-size="24.60" font-family="'DejaVu Sans','Liberation Sans',sans-serif" font-weight="bold" fill="#128c8a" stroke="#128c8a" stroke-width="0.50" stroke-linejoin="miter" textLength="634.19" lengthAdjust="spacingAndGlyphs">Expenditure Peformance Comparison (B$M)</text>
<rect x="2434.7" y="2317.7" width="115.3" height="63.0" fill="#70dccf"/>
<rect x="2124.1" y="2418.0" width="40.2" height="46.1" fill="#ddb085"/>
<rect x="2144.8" y="2418.0" width="19.5" height="46.1" fill="#d49e6e"/>
<rect x="2124.1" y="2489.0" width="40.2" height="45.6" fill="#7cc4c6"/>
<rect x="2144.8" y="2489.0" width="19.5" height="45.6" fill="#62b8b5"/>
<text x="2219.31" y="2448.30" font-size="25.50" font-family="'DejaVu Sans','Liberation Sans',sans-serif" font-weight="normal" fill="#1a1a1a" textLength="146.50" lengthAdjust="spacingAndGlyphs">Q3 FY18/19</text>
<text x="2217.18" y="2519.20" font-size="25.50" font-family="'DejaVu Sans','Liberation Sans',sans-serif" font-weight="normal" fill="#1a1a1a" textLength="150.76" lengthAdjust="spacingAndGlyphs">Q3 FY19/20</text>
<line x1="1234" y1="2852.3" x2="2398.3" y2="2852.3" stroke="#1a1a40" stroke-width="12.4" stroke-linecap="round"/>
<rect x="1258.9" y="2845.6" width="61.8" height="12.9" fill="#733c22"/>
<rect x="1289.8" y="2845.6" width="30.9" height="12.9" fill="#834322"/>
<rect x="1258.9" y="2401.9" width="61.8" height="444.2" fill="#ddb085"/>
<rect x="1289.8" y="2401.9" width="30.9" height="444.2" fill="#d49e6e"/>
<rect x="1337.7" y="2845.6" width="54.3" height="12.9" fill="#27567a"/>
<rect x="1364.8" y="2845.6" width="27.2" height="12.9" fill="#2a6080"/>
<rect x="1337.7" y="2340.9" width="54.3" height="505.2" fill="#7cc4c6"/>
<rect x="1364.8" y="2340.9" width="27.2" height="505.2" fill="#62b8b5"/>
<text x="1235.22" y="2378.70" font-size="27.30" font-family="'DejaVu Sans','Liberation Sans',sans-serif" font-weight="normal" fill="#3a3a3c" stroke="#3a3a3c" stroke-width="1.20" stroke-linejoin="miter" textLength="89.60" lengthAdjust="spacingAndGlyphs" transform="matrix(1 0 0 0.9050 0 225.976)">$526.2</text>
<text x="1317.05" y="2319.80" font-size="27.30" font-family="'DejaVu Sans','Liberation Sans',sans-serif" font-weight="normal" fill="#3a3a3c" stroke="#3a3a3c" stroke-width="1.20" stroke-linejoin="miter" textLength="83.41" lengthAdjust="spacingAndGlyphs" transform="matrix(1 0 0 0.9050 0 220.381)">$574.1</text>
<rect x="1473.3" y="2845.6" width="61.4" height="12.9" fill="#733c22"/>
<rect x="1504.0" y="2845.6" width="30.7" height="12.9" fill="#834322"/>
<rect x="1473.3" y="2496.4" width="61.4" height="349.7" fill="#ddb085"/>
<rect x="1504.0" y="2496.4" width="30.7" height="349.7" fill="#d49e6e"/>
<rect x="1552.1" y="2845.6" width="54.3" height="12.9" fill="#27567a"/>
<rect x="1579.2" y="2845.6" width="27.2" height="12.9" fill="#2a6080"/>
<rect x="1552.1" y="2518.8" width="54.3" height="327.3" fill="#7cc4c6"/>
<rect x="1579.2" y="2518.8" width="27.2" height="327.3" fill="#62b8b5"/>
<text x="1458.71" y="2470.70" font-size="27.30" font-family="'DejaVu Sans','Liberation Sans',sans-serif" font-weight="normal" fill="#3a3a3c" stroke="#3a3a3c" stroke-width="1.20" stroke-linejoin="miter" textLength="90.28" lengthAdjust="spacingAndGlyphs" transform="matrix(1 0 0 0.9050 0 234.716)">$387.4</text>
<text x="1538.75" y="2499.30" font-size="27.30" font-family="'DejaVu Sans','Liberation Sans',sans-serif" font-weight="normal" fill="#3a3a3c" stroke="#3a3a3c" stroke-width="1.20" stroke-linejoin="miter" textLength="88.21" lengthAdjust="spacingAndGlyphs" transform="matrix(1 0 0 0.9050 0 237.433)">$365.6</text>
<rect x="1671.9" y="2845.6" width="62.2" height="12.9" fill="#733c22"/>
<rect x="1703.0" y="2845.6" width="31.1" height="12.9" fill="#834322"/>
<rect x="1671.9" y="2661.0" width="62.2" height="185.1" fill="#ddb085"/>
<rect x="1703.0" y="2661.0" width="31.1" height="185.1" fill="#d49e6e"/>
<rect x="1751.1" y="2845.6" width="54.4" height="12.9" fill="#27567a"/>
<rect x="1778.3" y="2845.6" width="27.2" height="12.9" fill="#2a6080"/>
<rect x="1751.1" y="2637.0" width="54.4" height="209.1" fill="#7cc4c6"/>
<rect x="1778.3" y="2637.0" width="27.2" height="209.1" fill="#62b8b5"/>
<text x="1654.93" y="2641.20" font-size="27.30" font-family="'DejaVu Sans','Liberation Sans',sans-serif" font-weight="normal" fill="#3a3a3c" stroke="#3a3a3c" stroke-width="1.20" stroke-linejoin="miter" textLength="65.09" lengthAdjust="spacingAndGlyphs" transform="matrix(1 0 0 0.9050 0 250.914)">$235</text>
<text x="1737.04" y="2612.10" font-size="27.30" font-family="'DejaVu Sans','Liberation Sans',sans-serif" font-weight="normal" fill="#3a3a3c" stroke="#3a3a3c" stroke-width="1.20" stroke-linejoin="miter" textLength="88.62" lengthAdjust="spacingAndGlyphs" transform="matrix(1 0 0 0.9050 0 248.149)">$242.3</text>
<rect x="1871.1" y="2845.6" width="61.8" height="12.9" fill="#733c22"/>
<rect x="1902.0" y="2845.6" width="30.9" height="12.9" fill="#834322"/>
<rect x="1871.1" y="2621.7" width="61.8" height="224.4" fill="#ddb085"/>
<rect x="1902.0" y="2621.7" width="30.9" height="224.4" fill="#d49e6e"/>
<rect x="1950.4" y="2845.6" width="54.3" height="12.9" fill="#27567a"/>
<rect x="1977.6" y="2845.6" width="27.1" height="12.9" fill="#2a6080"/>
<rect x="1950.4" y="2560.3" width="54.3" height="285.8" fill="#7cc4c6"/>
<rect x="1977.6" y="2560.3" width="27.1" height="285.8" fill="#62b8b5"/>
<text x="1848.84" y="2598.90" font-size="27.30" font-family="'DejaVu Sans','Liberation Sans',sans-serif" font-weight="normal" fill="#3a3a3c" stroke="#3a3a3c" stroke-width="1.20" stroke-linejoin="miter" textLength="83.86" lengthAdjust="spacingAndGlyphs" transform="matrix(1 0 0 0.9050 0 246.895)">$271.8</text>
<text x="1932.62" y="2542.50" font-size="27.30" font-family="'DejaVu Sans','Liberation Sans',sans-serif" font-weight="normal" fill="#3a3a3c" stroke="#3a3a3c" stroke-width="1.20" stroke-linejoin="miter" textLength="85.10" lengthAdjust="spacingAndGlyphs" transform="matrix(1 0 0 0.9050 0 241.537)">$310.8</text>
<rect x="2059.0" y="2845.6" width="61.8" height="12.9" fill="#733c22"/>
<rect x="2089.9" y="2845.6" width="30.9" height="12.9" fill="#834322"/>
<rect x="2059.0" y="2768.6" width="61.8" height="77.5" fill="#ddb085"/>
<rect x="2089.9" y="2768.6" width="30.9" height="77.5" fill="#d49e6e"/>
<rect x="2137.8" y="2845.6" width="54.3" height="12.9" fill="#27567a"/>
<rect x="2164.9" y="2845.6" width="27.2" height="12.9" fill="#2a6080"/>
<rect x="2137.8" y="2759.8" width="54.3" height="86.3" fill="#7cc4c6"/>
<rect x="2164.9" y="2759.8" width="27.2" height="86.3" fill="#62b8b5"/>
<text x="2050.69" y="2751.10" font-size="27.30" font-family="'DejaVu Sans','Liberation Sans',sans-serif" font-weight="normal" fill="#3a3a3c" stroke="#3a3a3c" stroke-width="1.20" stroke-linejoin="miter" textLength="74.51" lengthAdjust="spacingAndGlyphs" transform="matrix(1 0 0 0.9050 0 261.354)">$98.6</text>
<text x="2139.86" y="2739.50" font-size="27.30" font-family="'DejaVu Sans','Liberation Sans',sans-serif" font-weight="normal" fill="#3a3a3c" stroke="#3a3a3c" stroke-width="1.20" stroke-linejoin="miter" textLength="87.82" lengthAdjust="spacingAndGlyphs" transform="matrix(1 0 0 0.9050 0 260.252)">$104.5</text>
<rect x="2246.9" y="2845.6" width="61.8" height="12.9" fill="#733c22"/>
<rect x="2277.8" y="2845.6" width="30.9" height="12.9" fill="#834322"/>
<rect x="2246.9" y="2701.0" width="61.8" height="145.1" fill="#ddb085"/>
<rect x="2277.8" y="2701.0" width="30.9" height="145.1" fill="#d49e6e"/>
<rect x="2325.7" y="2845.6" width="53.9" height="12.9" fill="#27567a"/>
<rect x="2352.6" y="2845.6" width="27.0" height="12.9" fill="#2a6080"/>
<rect x="2325.7" y="2677.3" width="53.9" height="168.8" fill="#7cc4c6"/>
<rect x="2352.6" y="2677.3" width="27.0" height="168.8" fill="#62b8b5"/>
<text x="2227.55" y="2668.90" font-size="27.30" font-family="'DejaVu Sans','Liberation Sans',sans-serif" font-weight="normal" fill="#3a3a3c" stroke="#3a3a3c" stroke-width="1.20" stroke-linejoin="miter" textLength="78.70" lengthAdjust="spacingAndGlyphs" transform="matrix(1 0 0 0.9050 0 253.545)">$182.1</text>
<text x="2314.23" y="2642.40" font-size="27.30" font-family="'DejaVu Sans','Liberation Sans',sans-serif" font-weight="normal" fill="#3a3a3c" stroke="#3a3a3c" stroke-width="1.20" stroke-linejoin="miter" textLength="58.01" lengthAdjust="spacingAndGlyphs" transform="matrix(1 0 0 0.9050 0 251.028)">$213</text>
<text x="1252.38" y="2894.60" font-size="20.60" font-family="'DejaVu Sans','Liberation Sans',sans-serif" font-weight="bold" fill="#555" stroke="#555" stroke-width="0.50" stroke-linejoin="miter" textLength="161.21" lengthAdjust="spacingAndGlyphs">Compensation</text>
<text x="1504.89" y="2894.60" font-size="20.60" font-family="'DejaVu Sans','Liberation Sans',sans-serif" font-weight="bold" fill="#555" stroke="#555" stroke-width="0.50" stroke-linejoin="miter" textLength="69.21" lengthAdjust="spacingAndGlyphs">Goods</text>
<text x="1482.52" y="2919.90" font-size="20.60" font-family="'DejaVu Sans','Liberation Sans',sans-serif" font-weight="bold" fill="#555" stroke="#555" stroke-width="0.50" stroke-linejoin="miter" textLength="113.86" lengthAdjust="spacingAndGlyphs">&amp; Services</text>
<text x="1701.93" y="2894.60" font-size="20.60" font-family="'DejaVu Sans','Liberation Sans',sans-serif" font-weight="bold" fill="#555" stroke="#555" stroke-width="0.50" stroke-linejoin="miter" textLength="85.28" lengthAdjust="spacingAndGlyphs">Interest</text>
<text x="1889.50" y="2894.60" font-size="20.60" font-family="'DejaVu Sans','Liberation Sans',sans-serif" font-weight="bold" fill="#555" stroke="#555" stroke-width="0.50" stroke-linejoin="miter" textLength="105.59" lengthAdjust="spacingAndGlyphs">Subsidies</text>
<text x="2074.89" y="2894.60" font-size="20.60" font-family="'DejaVu Sans','Liberation Sans',sans-serif" font-weight="bold" fill="#555" stroke="#555" stroke-width="0.50" stroke-linejoin="miter" textLength="99.81" lengthAdjust="spacingAndGlyphs">Pensions</text>
<text x="2087.34" y="2919.90" font-size="20.60" font-family="'DejaVu Sans','Liberation Sans',sans-serif" font-weight="bold" fill="#555" stroke="#555" stroke-width="0.50" stroke-linejoin="miter" textLength="76.37" lengthAdjust="spacingAndGlyphs">&amp; Grat.</text>
<text x="2284.31" y="2894.60" font-size="20.60" font-family="'DejaVu Sans','Liberation Sans',sans-serif" font-weight="bold" fill="#555" stroke="#555" stroke-width="0.50" stroke-linejoin="miter" textLength="61.85" lengthAdjust="spacingAndGlyphs">Other</text>
<text x="644.01" y="3039.00" font-size="53.80" font-family="'DejaVu Sans','Liberation Sans',sans-serif" font-weight="bold" fill="#ef9a0c" stroke="#ef9a0c" stroke-width="1.40" stroke-linejoin="miter" textLength="444.55" lengthAdjust="spacingAndGlyphs">PUBLIC DEBT</text>
<text x="644.14" y="3102.00" font-size="53.80" font-family="'DejaVu Sans','Liberation Sans',sans-serif" font-weight="bold" fill="#ef9a0c" stroke="#ef9a0c" stroke-width="1.40" stroke-linejoin="miter" textLength="318.02" lengthAdjust="spacingAndGlyphs">INTEREST</text>
<line x1="648.6" y1="3134.9" x2="1082.1" y2="3134.9" stroke="#555" stroke-width="8.4" stroke-linecap="round" stroke-dasharray="0 16.650"/>
<text x="1117.00" y="3019.00" font-size="32.30" font-family="'Liberation Sans',sans-serif" font-weight="normal" fill="#808285" textLength="1230.88" lengthAdjust="spacingAndGlyphs">Interest payments grew by <tspan font-weight="bold" fill="#f2a93b">$7.4 million</tspan> (3.1%) to <tspan font-weight="bold" fill="#f2a93b">$242.3 million</tspan> over the nine-month</text>
<text x="1117.00" y="3060.60" font-size="32.30" font-family="'Liberation Sans',sans-serif" font-weight="normal" fill="#808285" textLength="1207.65" lengthAdjust="spacingAndGlyphs">period, to represent 64.3% of the revised budget. Approximately <tspan font-weight="bold" fill="#f2a93b">$151.9 million</tspan> was</text>
<text x="1117.00" y="3102.20" font-size="32.30" font-family="'Liberation Sans',sans-serif" font-weight="normal" fill="#808285" textLength="1263.88" lengthAdjust="spacingAndGlyphs">directed to Bahamian dollar debt, while the balance of <tspan font-weight="bold" fill="#f2a93b">$90.5 million</tspan> was used to settle</text>
<text x="1117.00" y="3143.60" font-size="32.30" font-family="'Liberation Sans',sans-serif" font-weight="normal" fill="#808285" textLength="417.34" lengthAdjust="spacingAndGlyphs">foreign currency obligations.</text>
<text x="147.65" y="3228.70" font-size="25.00" font-family="'DejaVu Sans','Liberation Sans',sans-serif" font-weight="bold" fill="#4d4d4d" textLength="16.47" lengthAdjust="spacingAndGlyphs">3</text>
<text x="1585.50" y="3229.90" font-size="25.00" font-family="'DejaVu Sans','Liberation Sans',sans-serif" font-weight="bold" fill="#4d4d4d" textLength="387.45" lengthAdjust="spacingAndGlyphs">Third Quarter Fiscal Snapshot</text>
<text x="1980.29" y="3229.90" font-size="25.00" font-family="'DejaVu Sans','Liberation Sans',sans-serif" font-weight="normal" fill="#4d4d4d" textLength="471.73" lengthAdjust="spacingAndGlyphs">on Budgetary Peformance FY2019/20</text>
<rect x="2476.0" y="3205.6" width="74.0" height="37.4" fill="#8c8bc3"/>
</svg>
</body></html>
